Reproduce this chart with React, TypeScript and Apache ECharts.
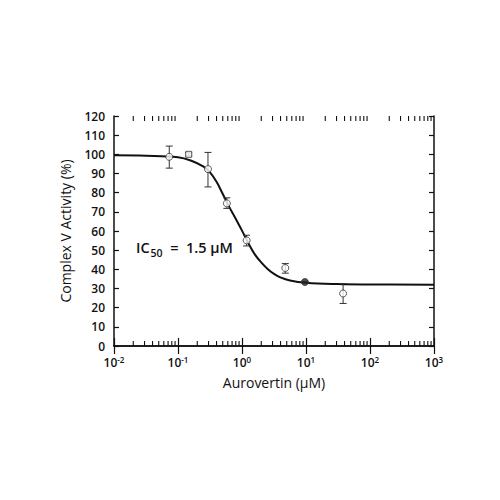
import { useEffect, useRef } from "react";
import * as echarts from "echarts";

// measured points (µM, % activity) with error bar ends
const concentrations = [0.073, 0.147, 0.294, 0.58, 1.18, 4.75, 9.6, 38];
const activity = [98.7, 100, 92.3, 74.4, 55.1, 40.7, 33.4, 27.4];
const errLow = [92.8, 99.2, 83, 71.8, 52.2, 38, 33.4, 22.2];
const errHigh = [104.3, 100.8, 101, 77.3, 57.8, 43, 33.4, 32.6];
const pointKind = ["open", "square", "open", "open", "open", "open", "filled", "open"];

// fitted curve
const fitX = [
  0.01, 0.0316, 0.1, 0.158, 0.251, 0.316, 0.398, 0.501, 0.631, 0.794, 1, 1.259,
  1.585, 1.995, 2.512, 3.162, 3.981, 5.623, 10, 31.62, 100, 1000,
];
const fitY = [
  99.5, 99.3, 98.5, 96.8, 93.6, 90.6, 85.8, 79.3, 72.6, 66.5, 60.2, 53.6, 47.8,
  43.6, 40.2, 37.6, 35.8, 34.2, 33.0, 32.3, 32.1, 32.0,
];

const minorTickValues = [
  0.02, 0.03, 0.04, 0.05, 0.06, 0.07, 0.08, 0.09,
  0.2, 0.3, 0.4, 0.5, 0.6, 0.7, 0.8, 0.9,
  2, 3, 4, 5, 6, 7, 8, 9,
  20, 30, 40, 50, 60, 70, 80, 90,
  200, 300, 400, 500, 600, 700, 800, 900,
];

const FONT = "'Open Sans', sans-serif";
const INK = "#111";

export default function App() {
  const chartRef = useRef<HTMLDivElement>(null);

  useEffect(() => {
    document.body.style.margin = "0";
    if (!chartRef.current) return;
    const chart = echarts.init(chartRef.current, null, { renderer: "svg" });

    const logAxisBase = {
      type: "log" as const,
      logBase: 10,
      min: 0.01,
      max: 1000,
      splitLine: { show: false },
      axisLine: { lineStyle: { color: INK, width: 1.5 } },
      axisTick: { inside: true, length: 8, lineStyle: { color: INK, width: 1.2 } },
    };
    const valueAxisBase = {
      type: "value" as const,
      min: 0,
      max: 120,
      interval: 10,
      splitLine: { show: false },
      axisLine: { show: true, lineStyle: { color: INK, width: 1.5 } },
      axisTick: { show: true, inside: true, length: 5, lineStyle: { color: INK, width: 1.2 } },
    };

    const option: echarts.EChartsOption = {
      animation: false,
      grid: { left: 114, right: 66, top: 116, bottom: 154 },
      xAxis: [
        {
          ...logAxisBase,
          position: "bottom",
          name: "Aurovertin (µM)",
          nameLocation: "middle",
          nameGap: 29,
          nameTextStyle: { fontFamily: FONT, fontSize: 14, color: INK },
          axisLabel: {
            margin: 9,
            formatter: (v: number) => `{b|10}{s|${Math.round(Math.log10(v))}}`,
            rich: {
              b: { fontFamily: FONT, fontSize: 12, fontWeight: 600, color: INK },
              s: { fontFamily: FONT, fontSize: 8, fontWeight: 600, color: INK, verticalAlign: "top", padding: [0, 0, 6, 0] },
            },
          },
        },
        {
          ...logAxisBase,
          position: "top",
          axisLabel: { show: false },
        },
      ],
      yAxis: [
        {
          ...valueAxisBase,
          position: "left",
          name: "Complex V Activity (%)",
          nameLocation: "middle",
          nameGap: 42,
          nameTextStyle: { fontFamily: FONT, fontSize: 14, color: INK },
          axisLabel: { margin: 9, fontFamily: FONT, fontSize: 12, fontWeight: 600, color: INK },
        },
        {
          ...valueAxisBase,
          position: "right",
          axisLabel: { show: false },
        },
      ],
      graphic: [
        {
          type: "text",
          left: 136,
          top: 240,
          style: {
            text: "{a|IC}{s|50}{a|  =  1.5 µM}",
            rich: {
              a: { fontFamily: FONT, fontSize: 14.5, fontWeight: 600, fill: INK },
              s: { fontFamily: FONT, fontSize: 10.5, fontWeight: 600, fill: INK, padding: [10, 0, 0, 1] },
            },
          },
        },
      ],
      series: [
        {
          type: "custom",
          silent: true,
          clip: false,
          encode: { x: 0, y: 1 },
          data: minorTickValues.map((v) => [v, 0]),
          renderItem: (_params: any, api: any) => {
            const v = api.value(0);
            const bottom = api.coord([v, 0]);
            const top = api.coord([v, 120]);
            const style = { stroke: INK, lineWidth: 1.1 };
            return {
              type: "group",
              children: [
                { type: "line", shape: { x1: bottom[0], y1: bottom[1], x2: bottom[0], y2: bottom[1] - 5 }, style },
                { type: "line", shape: { x1: top[0], y1: top[1], x2: top[0], y2: top[1] + 5 }, style },
              ],
            };
          },
        },
        {
          type: "line",
          data: fitX.map((x, i) => [x, fitY[i]]),
          smooth: 0.4,
          showSymbol: false,
          lineStyle: { color: INK, width: 2 },
          z: 3,
        },
        {
          type: "custom",
          encode: { x: 0, y: [1, 2] },
          data: concentrations.map((x, i) => [x, errLow[i], errHigh[i]]),
          renderItem: (_params: any, api: any) => {
            const x = api.value(0);
            const lo = api.coord([x, api.value(1)]);
            const hi = api.coord([x, api.value(2)]);
            const cap = 3.5;
            const style = { stroke: "#333", lineWidth: 1 };
            return {
              type: "group",
              children: [
                { type: "line", shape: { x1: lo[0], y1: lo[1], x2: hi[0], y2: hi[1] }, style },
                { type: "line", shape: { x1: lo[0] - cap, y1: lo[1], x2: lo[0] + cap, y2: lo[1] }, style },
                { type: "line", shape: { x1: hi[0] - cap, y1: hi[1], x2: hi[0] + cap, y2: hi[1] }, style },
              ],
            };
          },
          z: 4,
        },
        {
          type: "scatter",
          z: 5,
          data: concentrations.map((x, i) => {
            const kind = pointKind[i];
            return {
              value: [x, activity[i]],
              symbol: kind === "square" ? "rect" : "circle",
              symbolSize: kind === "square" ? 6 : 7,
              itemStyle: {
                color: kind === "filled" ? "#222" : "#fff",
                borderColor: "#333",
                borderWidth: 1,
              },
            };
          }),
        },
      ],
    };

    chart.setOption(option);
    return () => chart.dispose();
  }, []);

  return <div ref={chartRef} style={{ width: 500, height: 500 }} />;
}
